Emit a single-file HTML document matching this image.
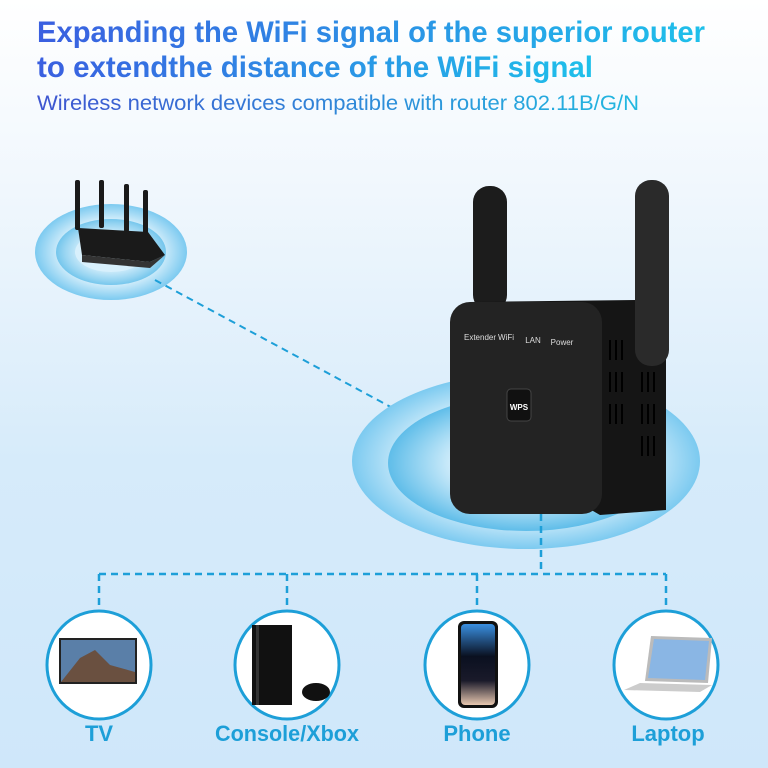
<!DOCTYPE html>
<html><head><meta charset="utf-8"><style>
html,body{margin:0;padding:0}
body{width:768px;height:768px;overflow:hidden;font-family:"Liberation Sans",sans-serif;background:linear-gradient(#ffffff 0%,#f0f7fd 25%,#d6ebfa 60%,#cfe7fa 100%)}
</style></head><body>
<svg width="768" height="768" viewBox="0 0 768 768" xmlns="http://www.w3.org/2000/svg" style="position:absolute;left:0;top:0">
<defs>
<linearGradient id="tg" x1="0" x2="1"><stop offset="0" stop-color="#3a5fe0"/><stop offset="1" stop-color="#1ec0ea"/></linearGradient>
<linearGradient id="sg" x1="0" x2="1"><stop offset="0" stop-color="#3e55d0"/><stop offset="1" stop-color="#22b8e0"/></linearGradient>
<radialGradient id="ring" cx="0.5" cy="0.5" r="0.5"><stop offset="0.6" stop-color="#e6f5fd"/><stop offset="1" stop-color="#7ccaf0"/></radialGradient>
<radialGradient id="ring2" cx="0.5" cy="0.5" r="0.5"><stop offset="0.5" stop-color="#d8f0fc"/><stop offset="1" stop-color="#5fbde9"/></radialGradient>
<linearGradient id="ph" x1="0" y1="0" x2="0" y2="1"><stop offset="0" stop-color="#3a8fe0"/><stop offset="0.4" stop-color="#0a1020"/><stop offset="0.7" stop-color="#1a1a2a"/><stop offset="1" stop-color="#e8c8b0"/></linearGradient>
</defs>
<text x="37" y="42" font-size="30" font-weight="bold" fill="url(#tg)" textLength="668" lengthAdjust="spacingAndGlyphs">Expanding the WiFi signal of the superior router</text>
<text x="37" y="77" font-size="30" font-weight="bold" fill="url(#tg)" textLength="556" lengthAdjust="spacingAndGlyphs">to extendthe distance of the WiFi signal</text>
<text x="37" y="110" font-size="21" fill="url(#sg)" textLength="602" lengthAdjust="spacingAndGlyphs">Wireless network devices compatible with router 802.11B/G/N</text>

<ellipse cx="111" cy="252" rx="76" ry="48" fill="url(#ring)"/>
<ellipse cx="111" cy="252" rx="55" ry="33" fill="url(#ring2)" opacity="0.8"/>
<ellipse cx="111" cy="252" rx="36" ry="20" fill="#d8f0fc"/>
<g fill="#1a1a1a">
<rect x="75" y="180" width="5" height="50" rx="2"/>
<rect x="99" y="180" width="5" height="48" rx="2"/>
<rect x="124" y="184" width="5" height="48" rx="2"/>
<rect x="143" y="190" width="5" height="45" rx="2"/>
<polygon points="78,228 148,232 165,255 150,262 82,255"/>
</g>
<polygon points="82,255 150,262 165,255 150,268 82,262" fill="#333"/>
<line x1="155" y1="280" x2="452" y2="440" stroke="#1d9fd8" stroke-width="2" stroke-dasharray="7,5"/>

<ellipse cx="526" cy="461" rx="174" ry="88" fill="url(#ring)"/>
<ellipse cx="526" cy="463" rx="138" ry="68" fill="url(#ring2)"/>
<rect x="473" y="186" width="34" height="125" rx="16" fill="#1c1c1c"/>
<polygon points="470,302 640,300 666,320 666,510 600,515 470,440" fill="#151515"/>
<rect x="450" y="302" width="152" height="212" rx="20" fill="#232323"/>
<rect x="635" y="180" width="34" height="186" rx="16" fill="#2a2a2a"/>
<g fill="#ddd" font-size="8" text-anchor="middle">
<text x="480" y="340">Extender</text><text x="506" y="340">WiFi</text><text x="533" y="343">LAN</text><text x="562" y="345">Power</text>
</g>
<rect x="507" y="389" width="24" height="32" rx="4" fill="#111" stroke="#444"/>
<text x="519" y="410" fill="#fff" font-size="8" font-weight="bold" text-anchor="middle">WPS</text>
<g stroke="#000" stroke-width="2">
<line x1="610" y1="340" x2="610" y2="360"/><line x1="616" y1="340" x2="616" y2="360"/><line x1="622" y1="340" x2="622" y2="360"/>
<line x1="610" y1="372" x2="610" y2="392"/><line x1="616" y1="372" x2="616" y2="392"/><line x1="622" y1="372" x2="622" y2="392"/>
<line x1="610" y1="404" x2="610" y2="424"/><line x1="616" y1="404" x2="616" y2="424"/><line x1="622" y1="404" x2="622" y2="424"/>
<line x1="642" y1="372" x2="642" y2="392"/><line x1="648" y1="372" x2="648" y2="392"/><line x1="654" y1="372" x2="654" y2="392"/>
<line x1="642" y1="404" x2="642" y2="424"/><line x1="648" y1="404" x2="648" y2="424"/><line x1="654" y1="404" x2="654" y2="424"/>
<line x1="642" y1="436" x2="642" y2="456"/><line x1="648" y1="436" x2="648" y2="456"/><line x1="654" y1="436" x2="654" y2="456"/>
</g>

<g stroke="#1d9fd8" stroke-width="2.5" stroke-dasharray="7,5" fill="none">
<line x1="541" y1="514" x2="541" y2="574"/>
<line x1="99" y1="574" x2="666" y2="574"/>
<line x1="99" y1="574" x2="99" y2="612"/>
<line x1="287" y1="574" x2="287" y2="612"/>
<line x1="477" y1="574" x2="477" y2="612"/>
<line x1="666" y1="574" x2="666" y2="612"/>
</g>
<g fill="#fff" stroke="#1d9fd8" stroke-width="3">
<ellipse cx="99" cy="665" rx="52" ry="54"/>
<ellipse cx="287" cy="665" rx="52" ry="54"/>
<ellipse cx="477" cy="665" rx="52" ry="54"/>
<ellipse cx="666" cy="665" rx="52" ry="54"/>
</g>
<rect x="59" y="638" width="78" height="46" fill="#222"/>
<rect x="61" y="640" width="74" height="42" fill="#5a7fa8"/>
<polygon points="61,682 80,658 95,650 110,665 135,672 135,682" fill="#6a5040"/>
<rect x="252" y="625" width="40" height="80" fill="#111"/>
<rect x="256" y="625" width="3" height="80" fill="#333"/>
<ellipse cx="316" cy="692" rx="14" ry="9" fill="#111"/>
<rect x="458" y="621" width="40" height="87" rx="6" fill="#111"/>
<rect x="461" y="624" width="34" height="81" rx="4" fill="url(#ph)"/>
<polygon points="651,636 712,638 708,683 645,681" fill="#bbb"/>
<polygon points="654,639 709,641 705,680 648,678" fill="#8ab6e4"/>
<polygon points="640,683 712,685 700,692 624,690" fill="#ccc"/>
<g fill="#1d9fd8" font-weight="bold" font-size="22" text-anchor="middle">
<text x="99" y="741">TV</text><text x="287" y="741" textLength="144" lengthAdjust="spacingAndGlyphs">Console/Xbox</text><text x="477" y="741">Phone</text><text x="668" y="741">Laptop</text>
</g>
</svg>
</body></html>
